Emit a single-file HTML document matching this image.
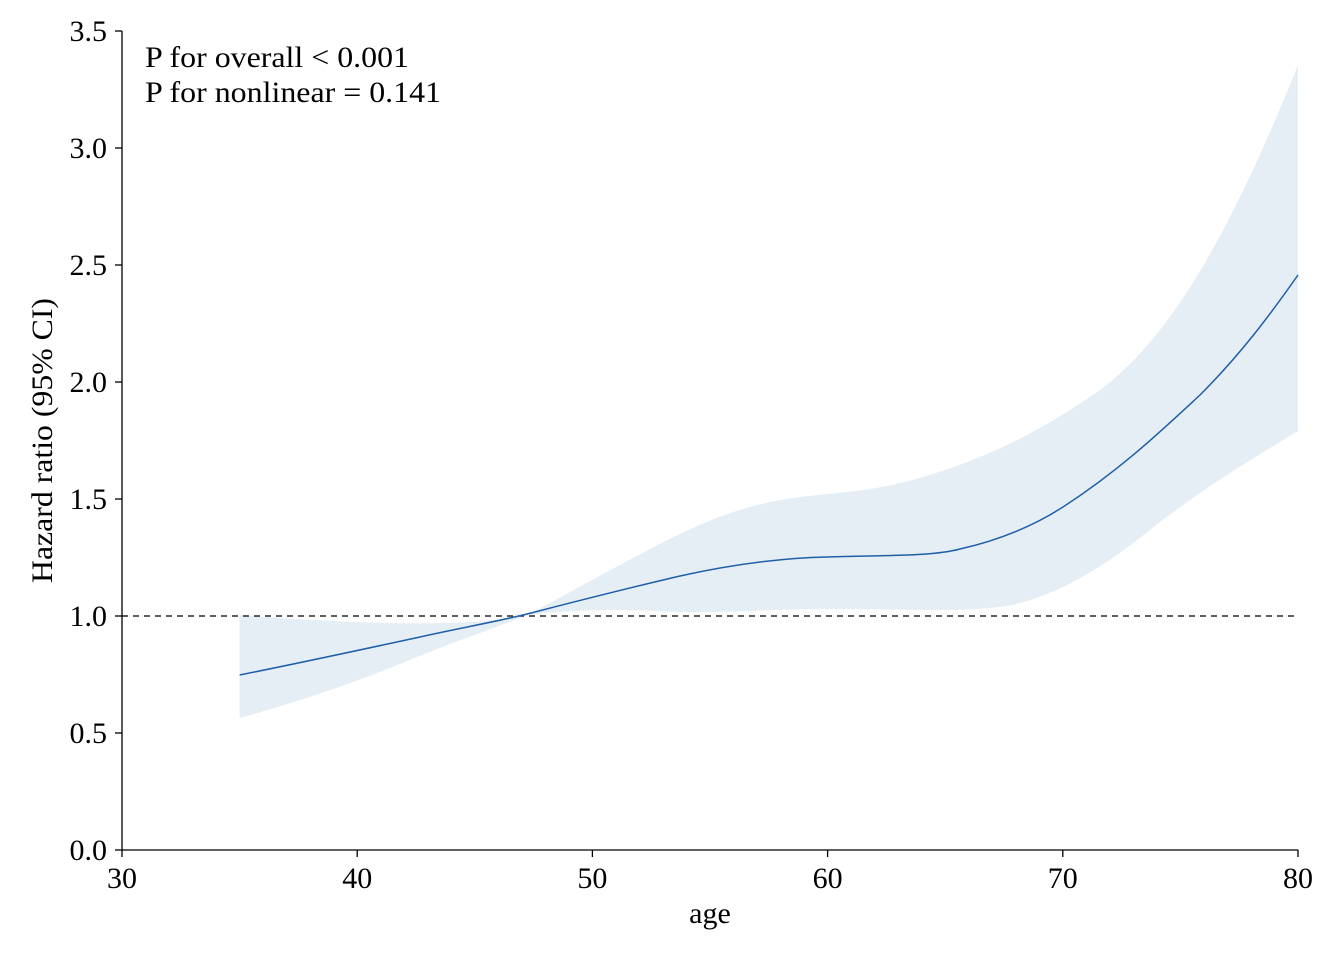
<!DOCTYPE html>
<html><head><meta charset="utf-8"><style>
html,body{margin:0;padding:0;background:#fff}
svg text{font-family:"Liberation Serif",serif;fill:#000}
</style></head><body>
<svg width="1344" height="960" viewBox="0 0 1344 960" xmlns="http://www.w3.org/2000/svg">
<path d="M239.6,615 C300,620 400,626 470,622 C500,620 515,617 527,615 C560,598 600,575 650,549 C700,523 740,505 800,497 C850,491 880,492 945,470 C1000,452 1050,425 1100,390 C1160,345 1220,260 1298,65 L1298,431 C1250,460 1200,490 1150,530 C1100,570 1050,600 1000,607 C960,612 900,609 827,609 C770,609 720,613 680,612 C630,610 590,608 527,615 C490,630 450,643 400,664 C340,688 290,704 239.6,718 Z" fill="#e5edf5"/>
<line x1="122" y1="616" x2="1298" y2="616" stroke="#000" stroke-width="1.3" stroke-dasharray="6,5"/>
<path d="M239.6,675 C300,663 360,650 420,637 C460,628 495,622 527,614 C570,603 620,590 680,576 C730,565 780,558 827,557 C880,555 930,557 960,549 C1000,540 1035,525 1063,507 C1120,470 1160,432 1200,395 C1240,355 1270,315 1298,275" fill="none" stroke="#1f5fa8" stroke-width="1.5"/>
<g stroke="#000" stroke-width="1.3">
<line x1="122" y1="31" x2="122" y2="850"/>
<line x1="122" y1="850" x2="1298" y2="850"/>
<line x1="115" y1="850" x2="122" y2="850"/><line x1="115" y1="733" x2="122" y2="733"/>
<line x1="115" y1="616" x2="122" y2="616"/><line x1="115" y1="499" x2="122" y2="499"/>
<line x1="115" y1="382" x2="122" y2="382"/><line x1="115" y1="265" x2="122" y2="265"/>
<line x1="115" y1="148" x2="122" y2="148"/><line x1="115" y1="31" x2="122" y2="31"/>
<line x1="122" y1="850" x2="122" y2="857"/><line x1="357.2" y1="850" x2="357.2" y2="857"/>
<line x1="592.4" y1="850" x2="592.4" y2="857"/><line x1="827.6" y1="850" x2="827.6" y2="857"/>
<line x1="1062.8" y1="850" x2="1062.8" y2="857"/><line x1="1298" y1="850" x2="1298" y2="857"/>
</g>
<g font-size="30" text-anchor="end">
<text x="107" y="860">0.0</text><text x="107" y="743">0.5</text><text x="107" y="626">1.0</text>
<text x="107" y="509">1.5</text><text x="107" y="392">2.0</text><text x="107" y="275">2.5</text>
<text x="107" y="158">3.0</text><text x="107" y="41">3.5</text>
</g>
<g font-size="30" text-anchor="middle">
<text x="122" y="888">30</text><text x="357.2" y="888">40</text><text x="592.4" y="888">50</text>
<text x="827.6" y="888">60</text><text x="1062.8" y="888">70</text><text x="1298" y="888">80</text>
<text x="710" y="923">age</text>
</g>
<text font-size="30" transform="translate(52,583) rotate(-90)" textLength="285" lengthAdjust="spacingAndGlyphs">Hazard ratio (95% CI)</text>
<text x="145" y="67" font-size="30" textLength="264" lengthAdjust="spacingAndGlyphs">P for overall &lt; 0.001</text>
<text x="145" y="102" font-size="30" textLength="296" lengthAdjust="spacingAndGlyphs">P for nonlinear = 0.141</text>
</svg>
</body></html>
